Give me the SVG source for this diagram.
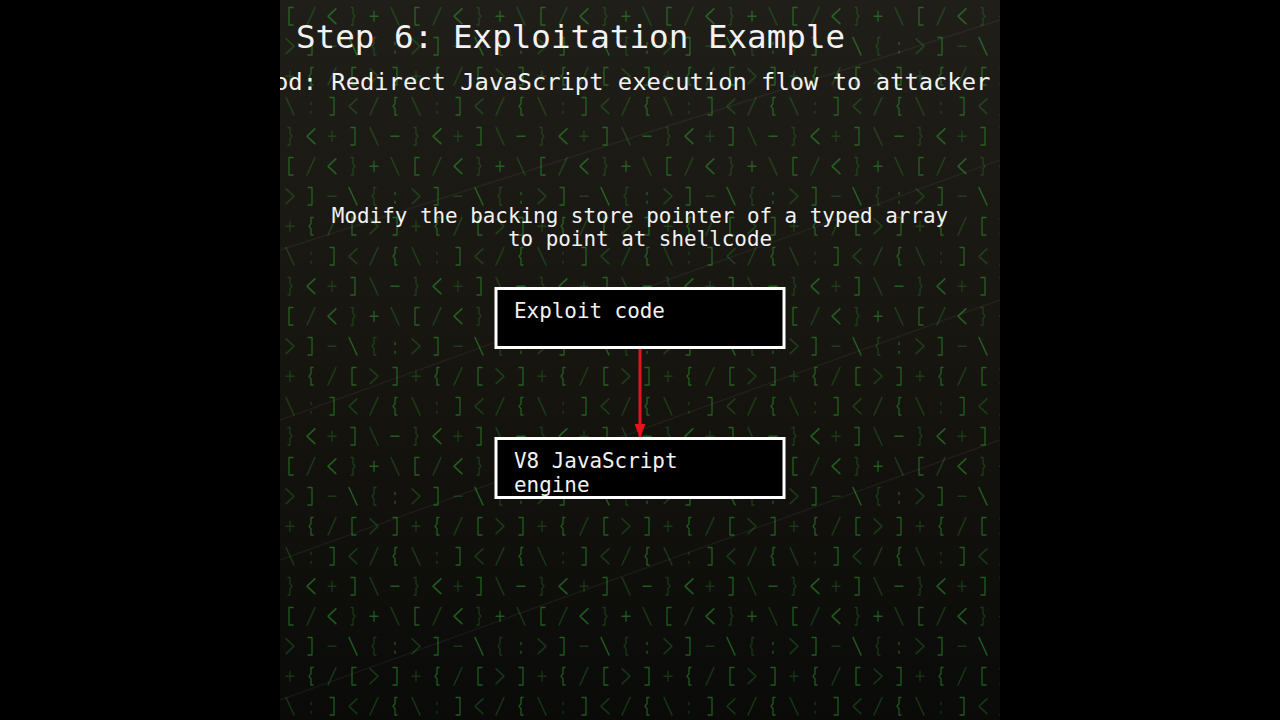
<svg xmlns="http://www.w3.org/2000/svg" width="1280" height="720" viewBox="0 0 1280 720">
  <style>
    .mono { font-family: "DejaVu Sans Mono", "Liberation Mono", monospace; fill: #f2f2f2; }
    .title { font-size: 32.6px; }
    .sub { font-size: 23.8px; }
    .body { font-size: 20.9px; }
    .box { fill: #000000; stroke: #ffffff; stroke-width: 3; }
    .glyph { fill: none; stroke: #2c9a2c; stroke-width: 1.3; stroke-linecap: round; stroke-linejoin: round; }
    .edge { stroke: #e3141b; stroke-width: 3; fill: none; }
  </style>
  <defs>
    <linearGradient id="panelGrad" x1="0" y1="0" x2="0" y2="1">
      <stop offset="0" stop-color="#201e19"/>
      <stop offset="0.5" stop-color="#16150f"/>
      <stop offset="1" stop-color="#0a0a09"/>
    </linearGradient>
    <pattern id="matrix" x="280" y="0" width="126" height="120" patternUnits="userSpaceOnUse" patternTransform="scale(1,1.25)">
      <path class="glyph" opacity="0.55" d="M13,6 H9 V20 H13 M56,7 L48,13 L56,19 M90,13 H98 M94,9 V17 M28,30 H32 V44 H28 M69,30 L77,44 M115,34 V35.5 M115,41 V42.5 M33,54 H31 V59 L29,61 L31,63 V68 H33 M76,54 H72 V68 H76 M113,54 H117 V68 H113 M50,78 H54 V92 H50 M117,78 H115 V83 L113,85 L115,87 V92 H117 M35,103 L27,109 L35,115 M71,102 H75 V116 H71 M111,109 H119"/>
      <path class="glyph" opacity="0.3" d="M35,6 L27,20 M71,6 H73 V11 L75,13 L73,15 V20 H71 M111,6 L119,20 M6,31 L14,37 L6,43 M48,37 H56 M96,30 H94 V35 L92,37 L94,39 V44 H96 M6,61 H14 M10,57 V65 M56,54 L48,68 M90,55 L98,61 L90,67 M6,78 L14,92 M31,82 V83.5 M31,89 V90.5 M77,79 L69,85 L77,91 M98,78 L90,92 M8,102 H10 V107 L12,109 L10,111 V116 H8 M48,109 H56 M52,105 V113 M90,102 L98,116"/>
    </pattern>
    <clipPath id="panelClip">
      <rect x="280" y="0" width="720" height="720"/>
    </clipPath>
    <marker id="arrowRed" viewBox="0 0 14 11" refX="14" refY="5.5" markerWidth="14" markerHeight="11" markerUnits="userSpaceOnUse" orient="auto">
      <path d="M0,0 L14,5.5 L0,11 Z" fill="#e3141b"/>
    </marker>
  </defs>

  <rect x="0" y="0" width="1280" height="720" fill="#000000"/>

  <g id="background" clip-path="url(#panelClip)">
    <rect x="280" y="0" width="720" height="720" fill="url(#panelGrad)"/>
    <rect x="280" y="0" width="720" height="720" fill="url(#matrix)"/>
    <g stroke="#ffffff" stroke-opacity="0.05" stroke-width="1.5" fill="none">
      <line x1="280" y1="250" x2="1000" y2="20"/>
      <line x1="280" y1="420" x2="1000" y2="160"/>
      <line x1="280" y1="560" x2="1000" y2="300"/>
      <line x1="280" y1="700" x2="1000" y2="440"/>
    </g>
  </g>

  <g id="title">
    <text class="mono title" x="296" y="48">Step 6: Exploitation Example</text>
  </g>

  <g id="subtitle" clip-path="url(#panelClip)">
    <text class="mono sub" x="274" y="90">od: Redirect JavaScript execution flow to attacker</text>
  </g>

  <g id="description">
    <text class="mono body" x="640" y="223" text-anchor="middle">Modify the backing store pointer of a typed array</text>
    <text class="mono body" x="640" y="246" text-anchor="middle">to point at shellcode</text>
  </g>

  <g id="connectors">
    <line class="edge" x1="640" y1="349" x2="640" y2="438" marker-end="url(#arrowRed)"/>
  </g>

  <g id="node-exploit-code">
    <rect class="box" x="496" y="288.5" width="288" height="59"/>
    <text class="mono body" x="514" y="318">Exploit code</text>
  </g>

  <g id="node-v8-engine">
    <rect class="box" x="496" y="438.5" width="288" height="59"/>
    <text class="mono body" x="514" y="468">V8 JavaScript</text>
    <text class="mono body" x="514" y="492">engine</text>
  </g>
</svg>
